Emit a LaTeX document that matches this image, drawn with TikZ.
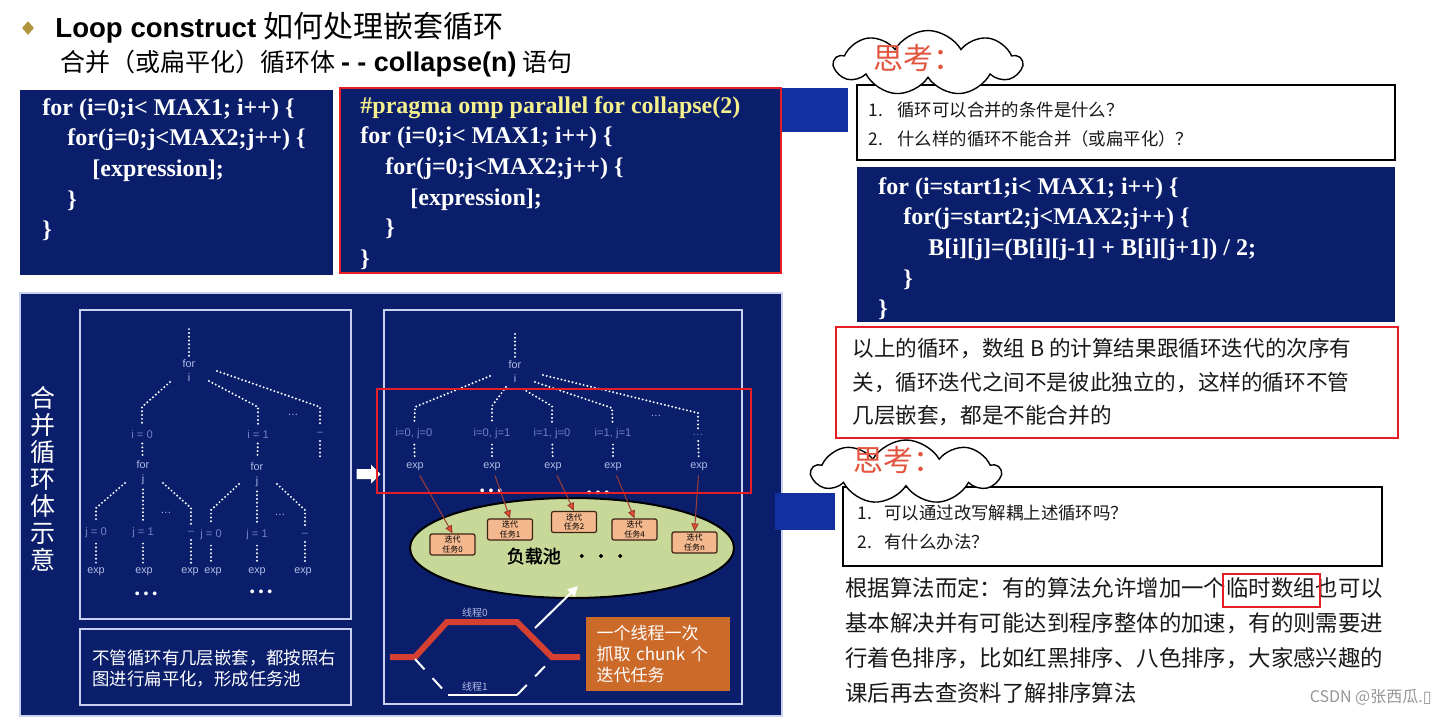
\documentclass[tikz,border=0pt]{standalone}
\usepackage{fontspec}
\setmainfont{Liberation Sans}
\newfontfamily\cjk{Noto Sans CJK SC}[AutoFakeBold=2]
\newfontfamily\codefont{Liberation Serif}
\newfontfamily\symfont{DejaVu Sans}
\usetikzlibrary{arrows.meta, calc, shapes.geometric, shapes.symbols, shapes.arrows}
\definecolor{navy}{RGB}{10,30,108}
\definecolor{royal}{RGB}{18,48,160}
\definecolor{edge}{RGB}{200,210,238}
\definecolor{hired}{RGB}{232,30,38}
\definecolor{lblhi}{RGB}{178,188,228}
\definecolor{lbllo}{RGB}{112,128,200}
\definecolor{poolgreen}{RGB}{200,216,152}
\definecolor{peach}{RGB}{244,184,142}
\definecolor{taskedge}{RGB}{60,35,20}
\definecolor{feedred}{RGB}{160,60,50}
\definecolor{tipred}{RGB}{228,80,45}
\definecolor{threadred}{RGB}{214,64,50}
\definecolor{grabbox}{RGB}{204,106,42}
\definecolor{codeyellow}{RGB}{246,240,140}
\definecolor{thinkred}{RGB}{226,84,62}
\definecolor{gold}{RGB}{176,148,62}
\definecolor{wm}{RGB}{150,150,150}
\definecolor{ink}{RGB}{25,25,25}

\begin{document}
\begin{tikzpicture}[
    x=0.5pt, y=-0.5pt,
    every node/.style={inner sep=0pt},
    dots/.style={draw=white, line width=1.1pt, line cap=round, dash pattern=on 0pt off 1.9pt},
    code/.style={font=\codefont\bfseries\fontsize{12}{15.3}\selectfont, text=white,
                 align=left, anchor=north west},
    kw/.style={font=\fontsize{5.4}{7}\selectfont, text=lblhi, align=center, inner sep=2pt},
    idx/.style={font=\fontsize{5.6}{6}\selectfont, text=lbllo, inner sep=2.5pt},
    more/.style={font=\fontsize{7}{7}\selectfont, text=white},
    task/.style={draw=taskedge, fill=peach, rounded corners=1pt, line width=0.6pt,
                 minimum width=22.5pt, minimum height=10.5pt, align=center,
                 font=\cjk\fontsize{4}{4.8}\selectfont},
    feed/.style={draw=feedred, line width=0.5pt, -{Triangle[length=4pt, width=3.6pt, fill=tipred]}},
    think/.style={cloud, cloud puffs=9, cloud puff arc=120, draw=black, fill=white,
                  line width=0.7pt},
    thinktxt/.style={font=\cjk\fontsize{15}{16}\selectfont, text=thinkred},
    quest/.style={font=\cjk\fontsize{8.7}{14.5}\selectfont, text=ink, align=left, anchor=north west},
    hilite/.style={draw=hired, line width=1pt},
    tname/.style={font=\cjk\fontsize{5}{5}\selectfont, text=lblhi},
]
% page
\fill[white] (0,0) rectangle (1443,719);

% title
\node[diamond, fill=gold, minimum width=6pt, minimum height=7pt] (bullet) at (28,28) {};
\node[anchor=base west, font=\fontsize{13.8}{16}\selectfont] (title) at (55,37)
    {\bfseries Loop construct {\mdseries\cjk\fontsize{15}{16}\selectfont 如何处理嵌套循环}};
\node[anchor=base west, font=\cjk\fontsize{12.5}{14}\selectfont] (subtitle) at (60,71)
    {合并（或扁平化）循环体 {\rmfamily\bfseries\fontsize{13.5}{14}\selectfont - - collapse(n)} 语句};

% code boxes
\fill[navy] (20,90) rectangle (333,275);
\node[code] (plain) at (42,98) {for (i=0;i< MAX1; i++) \{\\
\hspace{12.5pt}for(j=0;j<MAX2;j++) \{\\
\hspace{25pt}[expression];\\
\hspace{12.5pt}\}\\
\}};
\fill[royal] (782,88) rectangle (848,132);
\fill[navy] (340,88) rectangle (781,273);
\draw[hilite] (340,88) rectangle (781,273);
\node[code] (omp) at (360,96) {{\color{codeyellow}\#pragma omp parallel for collapse(2)}\\
for (i=0;i< MAX1; i++) \{\\
\hspace{12.5pt}for(j=0;j<MAX2;j++) \{\\
\hspace{25pt}[expression];\\
\hspace{12.5pt}\}\\
\}};

% big panel
\fill[navy] (20,293) rectangle (782,716);
\draw[edge, line width=0.6pt] (20,293) rectangle (782,716);
\node[font=\cjk\fontsize{12.5}{13.5}\selectfont, text=white, align=center] (vt) at (43,479)
    {合\\并\\循\\环\\体\\示\\意};
\draw[edge, line width=1pt] (80,310) rectangle (351,619);
\draw[edge, line width=1pt] (80,629) rectangle (351,705);
\draw[edge, line width=1pt] (384,310) rectangle (742,704);
\node[font=\cjk\fontsize{8.7}{10.5}\selectfont, text=white, align=left, anchor=north west] (flat)
    at (92,649) {不管循环有几层嵌套，都按照右\\图进行扁平化，形成任务池};
\node[single arrow, fill=white, minimum height=12pt, inner ysep=2.3pt, inner xsep=0pt,
      minimum width=9pt, single arrow head extend=2.2pt] (go) at (366,474) {};

% nested loop tree
\node[kw] (fi) at (189,371) {for\\i};
\draw[dots] (fi.north) -- ++(0,-27);
\node[idx] (a0) at (142,434) {i = 0};
\node[idx] (a1) at (258,434) {i = 1};
\node[idx] (a2) at (320,434) {–};
\draw[dots] ($(fi)+(-19,11)$) -- ++(-28,25) -- (a0);
\draw[dots] ($(fi)+(20,10)$) -- ++(49,26) -- (a1);
\draw[dots] ($(fi)+(28,0)$) -- ++(103,36) -- (a2);
\draw[dots] (a2) -- ++(0,24);
\node[kw] at (293,415) (amore) {…};
\node[kw] (fj0) at (143,473) {for\\j};
\node[kw] (fj1) at (257,475) {for\\j};
\draw[dots] (a0) -- (fj0);
\draw[dots] (a1) -- (fj1);
\node[idx] (b00) at (96,533) {j = 0};
\node[idx] (b01) at (143,533) {j = 1};
\node[idx] (b02) at (191,533) {–};
\draw[dots] ($(fj0)+(-18,10)$) -- ++(-29,25) -- (b00);
\draw[dots] (fj0) -- (b01);
\draw[dots] ($(fj0)+(20,10)$) -- ++(28,25) -- (b02);
\node[idx] (b10) at (211,535) {j = 0};
\node[idx] (b11) at (257,535) {j = 1};
\node[idx] (b12) at (305,535) {–};
\draw[dots] ($(fj1)+(-18,9)$) -- ++(-28,26) -- (b10);
\draw[dots] (fj1) -- (b11);
\draw[dots] ($(fj1)+(20,9)$) -- ++(28,26) -- (b12);
\node[kw] at (166,513) (bmore0) {…};
\node[kw] at (280,515) (bmore1) {…};
\foreach \s/\x in {00/96, 01/144, 02/190, 10/213, 11/257, 12/303} {
  \node[kw] (x\s) at (\x,572) {exp};
  \draw[dots] (b\s) -- (b\s |- x\s.north);
}
\node[more] (lrest0) at (146,595) {• • •};
\node[more] (lrest1) at (261,593) {• • •};

% collapsed tree
\node[kw] (fr) at (515,372) {for\\i};
\draw[dots] (fr.north) -- ++(0,-26);
\node[idx] (c1) at (414,434) {i=0, j=0};
\node[idx] (c2) at (492,434) {i=0, j=1};
\node[idx] (c3) at (552,434) {i=1, j=0};
\node[idx] (c4) at (613,434) {i=1, j=1};
\node[idx] (c5) at (698,435) {…};
\draw[dots] ($(fr)+(-25,4)$) -- ++(-75,31) -- (c1);
\draw[dots] ($(fr)+(-9,15)$) -- ++(-14,19) -- (c2);
\draw[dots] ($(fr)+(8,17)$) -- ++(29,17) -- (c3);
\draw[dots] ($(fr)+(20,10)$) -- ++(77,26) -- (c4);
\draw[dots] ($(fr)+(28,3)$) -- ++(155,38) -- (c5);
\node[kw] at (656,416) (cmore) {…};
\foreach \k/\x in {1/415, 2/492, 3/553, 4/613, 5/699} {
  \node[kw] (ex\k) at (\x,467) {exp};
  \draw[dots] (c\k) -- (ex\k);
}
\node[more] (rrest0) at (491,492) {• • •};
\node[more] (rrest1) at (598,494) {• • •};

% task pool
\node[ellipse, draw=black, line width=1pt, fill=poolgreen, minimum width=162pt,
      minimum height=50pt] (pool) at (572,548) {};
\node[font=\cjk\bfseries\fontsize{9}{10}\selectfont] (pooltxt) at (568,556)
    {负载池\hspace{6pt}·\hspace{0.6pt}·\hspace{0.6pt}·};
\node[task] (t0) at (452.5,544.5) {迭代\\任务0};
\node[task] (t1) at (510,529.5) {迭代\\任务1};
\node[task] (t2) at (574,522) {迭代\\任务2};
\node[task] (t4) at (634.5,529.5) {迭代\\任务4};
\node[task] (tn) at (694.5,542.5) {迭代\\任务n};
\draw[feed] (ex1) -- (t0.north);
\draw[feed] (ex2) -- (t1.north);
\draw[feed] (ex3) -- (t2.north);
\draw[feed] (ex4) -- (t4.north);
\draw[feed] (ex5) -- (tn.north);
\draw[hilite] (377,389) rectangle (751,493);

% threads
\draw[threadred, line width=3pt] (390,657) -- (415,657) -- (447,622) -- (517,622)
    -- (552,657) -- (580,657);
\draw[white, line width=1pt, dash pattern=on 7pt off 6pt] (415,659) -- (448,695);
\draw[white, line width=1pt] (448,695) -- (517,695);
\draw[white, line width=1pt, dash pattern=on 7pt off 6pt] (517,695) -- (552,659);
\node[tname] (th0) at (475,613) {线程0};
\node[tname] (th1) at (475,687) {线程1};
\coordinate (grab) at (535,628);
\draw[white, line width=1pt, -{Triangle[length=5pt, width=5pt]}] (grab) -- ($(pool.south)+(6,-13)$);
\node[fill=grabbox, text=white, text width=61pt, inner xsep=5.5pt, inner ysep=4pt,
      minimum height=34pt, align=left, font=\cjk\fontsize{8.5}{10.5}\selectfont] (chunk)
    at (657.5,654) {一个线程一次\\抓取 chunk 个\\迭代任务};

% right column
\draw[black, line width=0.8pt, fill=white] (857,85) rectangle (1395,160);
\node[quest] (q1) at (868,101) {\makebox[14.5pt][l]{1.}循环可以合并的条件是什么？\\
\makebox[14.5pt][l]{2.}什么样的循环不能合并（或扁平化）？};
\node[think, minimum width=93.5pt, minimum height=32.5pt] (cloud1) at (928,63) {};
\node[thinktxt] (think1) at (918,58) {思考：};

\fill[navy] (857,167) rectangle (1395,322);
\node[code] (dep) at (878,177) {for (i=start1;i< MAX1; i++) \{\\
\hspace{12.5pt}for(j=start2;j<MAX2;j++) \{\\
\hspace{25pt}B[i][j]=(B[i][j-1] + B[i][j+1]) / 2;\\
\hspace{12.5pt}\}\\
\}};

\fill[royal] (775,493) rectangle (835,530);
\draw[black, line width=0.8pt, fill=white] (843,487) rectangle (1382,566);
\node[think, minimum width=94pt, minimum height=32pt] (cloud2) at (906,472) {};
\node[thinktxt] (think2) at (898,460) {思考：};
\node[quest] (q2) at (857,504) {\makebox[13.5pt][l]{1.}可以通过改写解耦上述循环吗？\\
\makebox[13.5pt][l]{2.}有什么办法？};

\draw[hilite] (836,327) rectangle (1398,438);
\node[font=\cjk\fontsize{10.8}{16.75}\selectfont, text=ink, align=left, anchor=north west] (why)
    at (852,338) {以上的循环，数组 B 的计算结果跟循环迭代的次序有\\
关，循环迭代之间不是彼此独立的，这样的循环不管\\
几层嵌套，都是不能合并的};

\node[font=\cjk\fontsize{11.2}{17.5}\selectfont, text=ink, align=left, anchor=north west] (how)
    at (845,577) {根据算法而定：有的算法允许增加一个临时数组也可以\\
基本解决并有可能达到程序整体的加速，有的则需要进\\
行着色排序，比如红黑排序、八色排序，大家感兴趣的\\
课后再去查资料了解排序算法};
\draw[hilite] (1223,574) rectangle (1320,607);
\node[anchor=east, font=\cjk\fontsize{8}{9}\selectfont, text=wm] (wmark) at (1432,697)
    {CSDN @张西瓜.{\symfont ▯}};
\end{tikzpicture}
\end{document}
